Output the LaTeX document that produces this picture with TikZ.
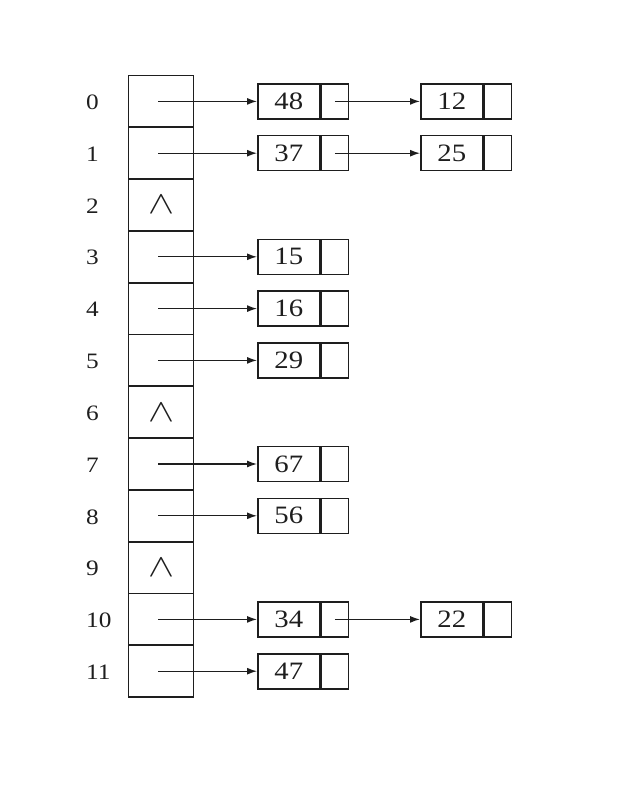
\documentclass[tikz,border=0pt]{standalone}
\usepackage{graphicx}
\usepackage{fontspec}
\setmainfont{Liberation Serif}
\usetikzlibrary{arrows.meta}
\newcommand{\wdig}[1]{\scalebox{1.15}[1]{#1}}
\newcommand{\nullmark}{\scalebox{3.9}[3.2]{$\wedge$}}
\definecolor{ink}{RGB}{30,30,30}
\begin{document}
\begin{tikzpicture}[x=1pt,y=-1pt,color=ink,
  cell/.style={draw,line width=1.8pt,minimum width=65pt,minimum height=51.8pt,inner sep=0pt,anchor=center},
  dbox/.style={draw,line width=1.6pt,minimum width=62pt,minimum height=35pt,inner sep=0pt,anchor=west,font=\fontsize{25}{25}\selectfont},
  pbox/.style={draw,line width=1.6pt,minimum width=27pt,minimum height=35pt,inner sep=0pt,anchor=west},
  idx/.style={anchor=west,inner sep=0pt,font=\fontsize{22}{22}\selectfont},
  link/.style={line width=1.3pt,-{Latex[length=10pt,width=7pt]}},
  nul/.style={inner sep=0pt}]
\useasboundingbox (0,0) rectangle (627,810);
% table cells
\foreach \i in {0,...,11} {
  \node[cell] (c\i) at (161,{75.5+51.8*(\i+0.5)}) {};
  \node[idx] (l\i) at (86,{76.5+51.8*(\i+0.5)}) {\wdig{\i}};
}
\node[nul] (z2) at (c2.center) {\nullmark};
\node[nul] (z6) at (c6.center) {\nullmark};
\node[nul] (z9) at (c9.center) {\nullmark};
% first-level list nodes
\foreach \i/\v in {0/48,1/37,3/15,4/16,5/29,7/67,8/56,10/34,11/47} {
  \node[dbox] (a\i) at (257,{75.5+51.8*(\i+0.5)}) {\wdig{\v}};
  \node[pbox] (ap\i) at (a\i.east) {};
  \draw[link] ([xshift=-3pt]c\i.center) -- (a\i.west);
}
% second-level list nodes
\foreach \i/\v in {0/12,1/25,10/22} {
  \node[dbox] (b\i) at (420,{75.5+51.8*(\i+0.5)}) {\wdig{\v}};
  \node[pbox] (bp\i) at (b\i.east) {};
  \draw[link] (ap\i.center) -- (b\i.west);
}
\end{tikzpicture}
\end{document}
